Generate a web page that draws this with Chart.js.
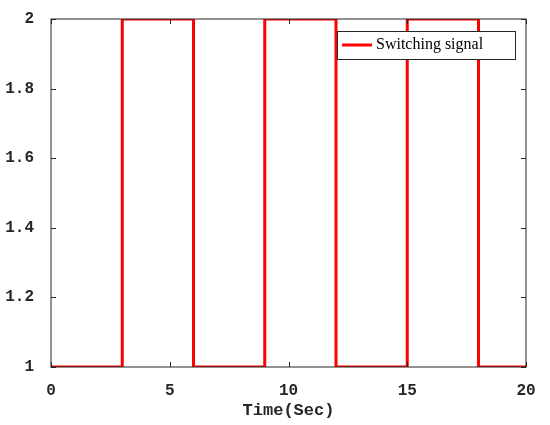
<!DOCTYPE html>
<html>
<head>
<meta charset="utf-8">
<script src="https://cdn.jsdelivr.net/npm/chart.js@4/dist/chart.umd.min.js"></script>
<style>
  body { margin: 0; background: #fff; }
  #wrap { width: 550px; height: 425px; }
</style>
</head>
<body>
<div id="wrap"><canvas id="c" width="550" height="425"></canvas></div>
<script>
// step signal: switching times and levels
const switchTimes = [0, 3, 3, 6, 6, 9, 9, 12, 12, 15, 15, 18, 18, 20];
const signalLevels = [1, 1, 2, 2, 1, 1, 2, 2, 1, 1, 2, 2, 1, 1];
const xTicks = [0, 5, 10, 15, 20];
const yTicks = [1, 1.2, 1.4, 1.6, 1.8, 2];
const seriesLabel = "Switching signal";
const xTitle = "Time(Sec)";

const tickFont = { family: "'Liberation Mono', 'DejaVu Sans Mono', monospace", size: 16, weight: "bold" };
const titleFont = { family: "'Liberation Mono', 'DejaVu Sans Mono', monospace", size: 17, weight: "bold" };

// frame, inward ticks and boxed legend like MATLAB
const matlabFrame = {
  id: "matlabFrame",
  afterDatasetsDraw(chart) {
    const { ctx, chartArea: a, scales } = chart;
    ctx.save();
    ctx.strokeStyle = "#262626";
    ctx.lineWidth = 1;
    ctx.strokeRect(a.left, a.top, a.right - a.left, a.bottom - a.top);
    xTicks.forEach((v) => {
      const x = Math.round(scales.x.getPixelForValue(v)) + 0.5;
      ctx.beginPath();
      ctx.moveTo(x, a.bottom); ctx.lineTo(x, a.bottom - 5);
      ctx.moveTo(x, a.top); ctx.lineTo(x, a.top + 5);
      ctx.stroke();
    });
    yTicks.forEach((v) => {
      const y = Math.round(scales.y.getPixelForValue(v)) + 0.5;
      ctx.beginPath();
      ctx.moveTo(a.left, y); ctx.lineTo(a.left + 5, y);
      ctx.moveTo(a.right, y); ctx.lineTo(a.right - 5, y);
      ctx.stroke();
    });
    // legend
    const lx = 337, ly = 31, lw = 178, lh = 28;
    ctx.fillStyle = "#fff";
    ctx.fillRect(lx, ly, lw, lh);
    ctx.strokeRect(lx + 0.5, ly + 0.5, lw, lh);
    ctx.strokeStyle = "red";
    ctx.lineWidth = 3;
    ctx.beginPath();
    ctx.moveTo(lx + 5, ly + 14); ctx.lineTo(lx + 35, ly + 14);
    ctx.stroke();
    ctx.fillStyle = "#000";
    ctx.font = "16px 'Liberation Serif', serif";
    ctx.textBaseline = "middle";
    ctx.fillText(seriesLabel, lx + 39, ly + 14);
    ctx.restore();
  }
};

new Chart(document.getElementById("c"), {
  type: "line",
  data: {
    datasets: [{
      label: seriesLabel,
      data: switchTimes.map((t, i) => ({ x: t, y: signalLevels[i] })),
      borderColor: "red",
      borderWidth: 3,
      pointRadius: 0,
      tension: 0,
      fill: false
    }]
  },
  options: {
    responsive: false,
    animation: false,
    layout: { padding: { top: 19, right: 24, left: 0, bottom: 0 } },
    plugins: { legend: { display: false }, tooltip: { enabled: false } },
    scales: {
      x: {
        type: "linear", min: 0, max: 20,
        afterBuildTicks: (s) => { s.ticks = xTicks.map((v) => ({ value: v })); },
        afterFit: (s) => { s.height = 58; },
        grid: { display: false },
        border: { display: false },
        ticks: { font: tickFont, color: "#262626", padding: 6, maxRotation: 0 },
        title: { display: true, text: xTitle, font: titleFont, color: "#262626", padding: { top: 1 } }
      },
      y: {
        min: 1, max: 2,
        afterBuildTicks: (s) => { s.ticks = yTicks.map((v) => ({ value: v })); },
        afterFit: (s) => { s.width = 51; },
        grid: { display: false },
        border: { display: false },
        ticks: { font: tickFont, color: "#262626", padding: 9, callback: (v) => String(v) }
      }
    }
  },
  plugins: [matlabFrame]
});
</script>
</body>
</html>
